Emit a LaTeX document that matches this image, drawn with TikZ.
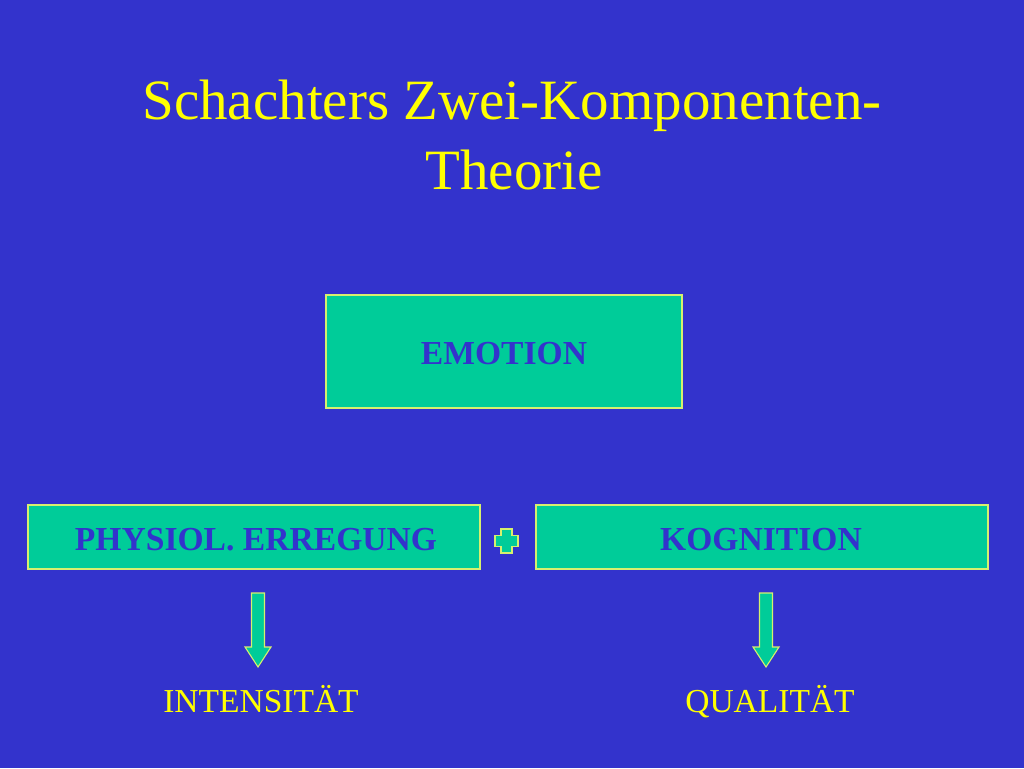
\documentclass[tikz,border=0pt]{standalone}
\usepackage{fontspec}
\setmainfont{Liberation Serif}
\definecolor{slidebg}{RGB}{51,51,204}
\definecolor{boxfill}{RGB}{0,204,153}
\definecolor{boxline}{RGB}{214,240,110}
\definecolor{titleyellow}{RGB}{255,255,0}
\tikzset{
  greenbox/.style={draw=boxline, line width=1.3pt, fill=boxfill, inner sep=0pt},
  boxtext/.style={text=slidebg, font=\fontsize{33.6}{40}\selectfont\bfseries},
  yellowlbl/.style={text=titleyellow, font=\fontsize{33.5}{40}\selectfont, anchor=base},
  titletext/.style={text=titleyellow, font=\fontsize{57}{68}\selectfont, anchor=base},
  greenglyph/.style={draw=boxline, line width=1.1pt, fill=boxfill, line join=miter}
}
\begin{document}
\begin{tikzpicture}[x=1pt,y=-1pt]
\useasboundingbox (0,0) rectangle (1024,768);
\fill[slidebg] (0,0) rectangle (1024,768);
% title
\node[titletext] (t1) at (512,119) {Schachters Zwei-Komponenten-};
\node[titletext] (t2) at (514,189) {Theorie};
% boxes
\draw[greenbox] (326,295) rectangle (682,408);
\node[boxtext] (emo) at (504,354) {EMOTION};
\draw[greenbox] (28,505) rectangle (480,569);
\node[boxtext] (phy) at (256,540) {PHYSIOL. ERREGUNG};
\draw[greenbox] (536,505) rectangle (988,569);
\node[boxtext] (kog) at (761,540) {KOGNITION};
% plus sign
\draw[greenglyph] (501,529) -- (512,529) -- (512,535.5) -- (518,535.5) -- (518,546.5) -- (512,546.5) -- (512,553) -- (501,553) -- (501,546.5) -- (495,546.5) -- (495,535.5) -- (501,535.5) -- cycle;
% arrows
\draw[greenglyph] (251.5,593) -- (264.5,593) -- (264.5,647) -- (271,647) -- (258,667) -- (245,647) -- (251.5,647) -- cycle;
\draw[greenglyph] (759.5,593) -- (772.5,593) -- (772.5,647) -- (779,647) -- (766,667) -- (753,647) -- (759.5,647) -- cycle;
% labels
\node[yellowlbl] (int) at (261,712) {INTENSITÄT};
\node[yellowlbl] (qual) at (770,712) {QUALITÄT};
\end{tikzpicture}
\end{document}
